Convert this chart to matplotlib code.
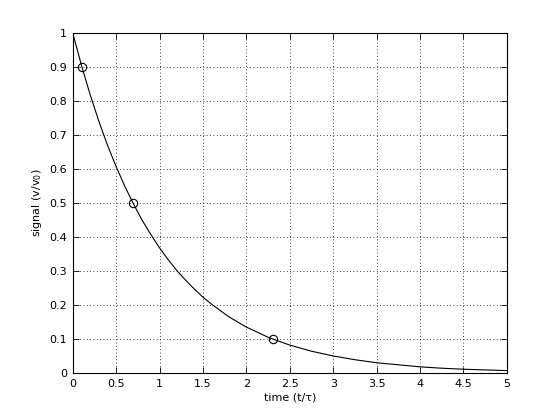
import matplotlib
matplotlib.use("Agg")
import matplotlib.pyplot as plt

# curve values
t_curve = [0, 0.1, 0.2, 0.3, 0.4, 0.5, 0.6, 0.7, 0.8, 0.9, 1.0, 1.1, 1.2, 1.3, 1.4, 1.5,
           1.6, 1.8, 2.0, 2.25, 2.5, 2.75, 3.0, 3.25, 3.5, 3.75, 4.0, 4.25, 4.5, 4.75, 5.0]
v_curve = [1.0, 0.905, 0.819, 0.741, 0.670, 0.607, 0.549, 0.497, 0.449, 0.407, 0.368,
           0.333, 0.301, 0.273, 0.247, 0.223, 0.202, 0.165, 0.135, 0.105, 0.082, 0.064,
           0.050, 0.039, 0.030, 0.024, 0.018, 0.014, 0.011, 0.009, 0.007]

# marked points
t_marks = [0.105, 0.693, 2.303]
v_marks = [0.9, 0.5, 0.1]

plt.rcParams['font.family'] = ['DejaVu Sans']
plt.rcParams['font.size'] = 8

fig = plt.figure(figsize=(5.6, 4.2), dpi=100)
ax = fig.add_axes([0.130, 0.112, 0.775, 0.809])

ax.plot(t_curve, v_curve, color='black', linewidth=0.8)
ax.plot(t_marks, v_marks, 'o', markerfacecolor='none', markeredgecolor='black',
        markersize=6, markeredgewidth=0.8)

ax.set_xlim(0, 5)
ax.set_ylim(0, 1)
ax.set_xticks([0, 0.5, 1, 1.5, 2, 2.5, 3, 3.5, 4, 4.5, 5])
ax.set_xticklabels(['0', '0.5', '1', '1.5', '2', '2.5', '3', '3.5', '4', '4.5', '5'])
ax.set_yticks([0, 0.1, 0.2, 0.3, 0.4, 0.5, 0.6, 0.7, 0.8, 0.9, 1])
ax.set_yticklabels(['0', '0.1', '0.2', '0.3', '0.4', '0.5', '0.6', '0.7', '0.8', '0.9', '1'])
ax.tick_params(direction='in', length=4, width=0.6, top=True, right=True, pad=4)
ax.grid(True, color='black', linestyle=(0, (1, 3)), linewidth=0.6)
for s in ax.spines.values():
    s.set_linewidth(0.8)

ax.set_xlabel('time (t/\u03c4)', labelpad=3)
ax.set_ylabel('signal (v/v$_0$)', labelpad=4)

fig.savefig('out.png', dpi=100, facecolor='white')
